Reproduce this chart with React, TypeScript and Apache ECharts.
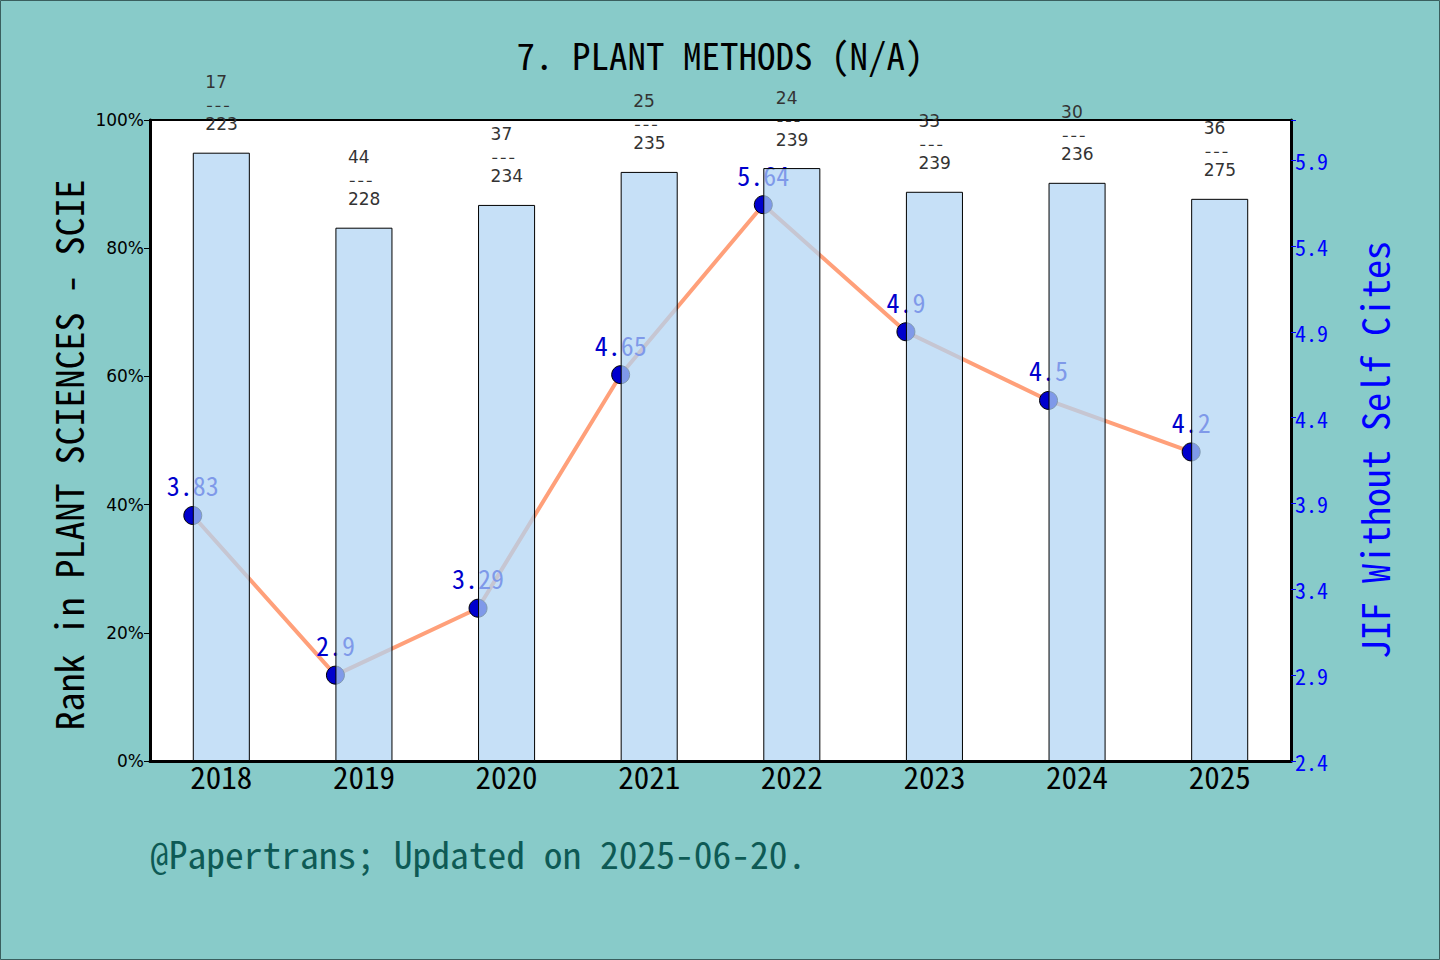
import React, { useEffect, useRef } from "react";
import * as echarts from "echarts";

const years = ["2018", "2019", "2020", "2021", "2022", "2023", "2024", "2025"];
const rankPercent = [94.9, 83.2, 86.75, 91.9, 92.5, 88.8, 90.2, 87.7];
const ranks = [17, 44, 37, 25, 24, 33, 30, 36];
const totals = [223, 228, 234, 235, 239, 239, 236, 275];
const jifLabels = ["3.83", "2.9", "3.29", "4.65", "5.64", "4.9", "4.5", "4.2"];
const jifValues = [3.83, 2.9, 3.29, 4.65, 5.64, 4.9, 4.5, 4.2];

const MONO = "'Noto Sans Mono CJK SC', 'DejaVu Sans Mono', monospace";
const SANS = "'DejaVu Sans', 'Noto Sans', sans-serif";

export default function App() {
  const ref = useRef<HTMLDivElement>(null);
  useEffect(() => {
    document.body.style.margin = "0";
    if (!ref.current) return;
    const chart = echarts.init(ref.current, undefined, { renderer: "svg" });
    const option: any = {
      animation: false,
      backgroundColor: "#88cbc9",
      title: {
        text: "7. PLANT METHODS (N/A)",
        left: "center",
        top: 30,
        textStyle: { fontFamily: MONO, fontSize: 37, fontWeight: "normal", color: "#000" },
      },
      grid: {
        left: 150,
        right: 149,
        top: 120,
        bottom: 199,
        show: true,
        backgroundColor: "#ffffff",
        borderColor: "#000",
        borderWidth: 2,
      },
      xAxis: [
        {
          type: "category",
          data: years,
          boundaryGap: true,
          axisLine: { onZero: false, lineStyle: { color: "#000", width: 3 } },
          axisTick: { inside: true, length: 5, lineStyle: { color: "#000" } },
          axisLabel: { fontFamily: MONO, fontSize: 31, color: "#000", margin: -1 },
        },
        {
          type: "value",
          min: -0.5,
          max: 7.5,
          show: false,
          axisLine: { onZero: false },
        },
      ],
      yAxis: [
        {
          type: "value",
          min: 0,
          max: 100,
          interval: 20,
          position: "left",
          axisLine: { show: true, onZero: false, lineStyle: { color: "#000", width: 3 } },
          axisTick: { show: true, length: 6, lineStyle: { color: "#000" } },
          axisLabel: { formatter: "{value}%", fontFamily: SANS, fontSize: 17, color: "#000", margin: 6 },
          splitLine: { show: false },
        },
        {
          type: "value",
          min: 2.4,
          max: 6.1333,
          interval: 0.5,
          position: "right",
          axisLine: { show: true, onZero: false, lineStyle: { color: "#000", width: 3 } },
          axisTick: { show: true, length: 5, lineStyle: { color: "#0000ff" } },
          axisLabel: {
            formatter: (v: number) => (v > 6 ? "" : v.toFixed(1)),
            fontFamily: MONO,
            fontSize: 22,
            color: "#0000ff",
            margin: 4,
          },
          splitLine: { show: false },
        },
      ],
      graphic: [
        {
          type: "rect",
          shape: { x: 0.5, y: 0.5, width: 1439, height: 959 },
          style: { fill: "none", stroke: "#3a5f5e", lineWidth: 1 },
          silent: true,
        },
        {
          type: "text",
          x: 67,
          y: 455,
          rotation: Math.PI / 2,
          style: {
            text: "Rank in PLANT SCIENCES - SCIE",
            fontFamily: MONO,
            fontSize: 38,
            fill: "#000",
            textAlign: "center",
            textVerticalAlign: "middle",
          },
        },
        {
          type: "text",
          x: 1373,
          y: 450,
          rotation: Math.PI / 2,
          style: {
            text: "JIF Without Self Cites",
            fontFamily: MONO,
            fontSize: 38,
            fill: "#0000ff",
            textAlign: "center",
            textVerticalAlign: "middle",
          },
        },
        {
          type: "text",
          x: 150,
          y: 852,
          style: {
            text: "@Papertrans; Updated on 2025-06-20.",
            fontFamily: MONO,
            fontSize: 37.5,
            fill: "#0e5a55",
            textAlign: "left",
            textVerticalAlign: "middle",
          },
        },
      ],
      series: [
        {
          type: "line",
          xAxisIndex: 1,
          yAxisIndex: 1,
          z: 2,
          data: jifValues.map((v, i) => [i - 0.2, v]),
          lineStyle: { color: "#ffa07a", width: 4 },
          symbol: "circle",
          symbolSize: 18,
          itemStyle: { color: "#0000cd", borderColor: "#000", borderWidth: 1 },
          label: {
            show: true,
            position: "top",
            distance: 8,
            formatter: (p: any) => jifLabels[p.dataIndex],
            fontFamily: MONO,
            fontSize: 26,
            color: "#0000cd",
          },
        },
        {
          type: "bar",
          xAxisIndex: 0,
          yAxisIndex: 0,
          z: 3,
          barWidth: "40%",
          data: rankPercent,
          itemStyle: { color: "rgba(176,212,244,0.72)", borderColor: "#000", borderWidth: 1 },
          label: {
            show: true,
            position: "top",
            distance: 18,
            align: "left",
            offset: [-16, 0],
            formatter: (p: any) => `${ranks[p.dataIndex]}\n{d|---}\n${totals[p.dataIndex]}`,
            fontFamily: SANS,
            fontSize: 17,
            lineHeight: 21,
            color: "#333",
            rich: {
              d: { fontFamily: MONO, fontSize: 17, lineHeight: 21, color: "#333" },
            },
          },
        },
      ],
    };
    chart.setOption(option);
    return () => chart.dispose();
  }, []);
  return <div ref={ref} style={{ width: 1440, height: 960 }} />;
}
